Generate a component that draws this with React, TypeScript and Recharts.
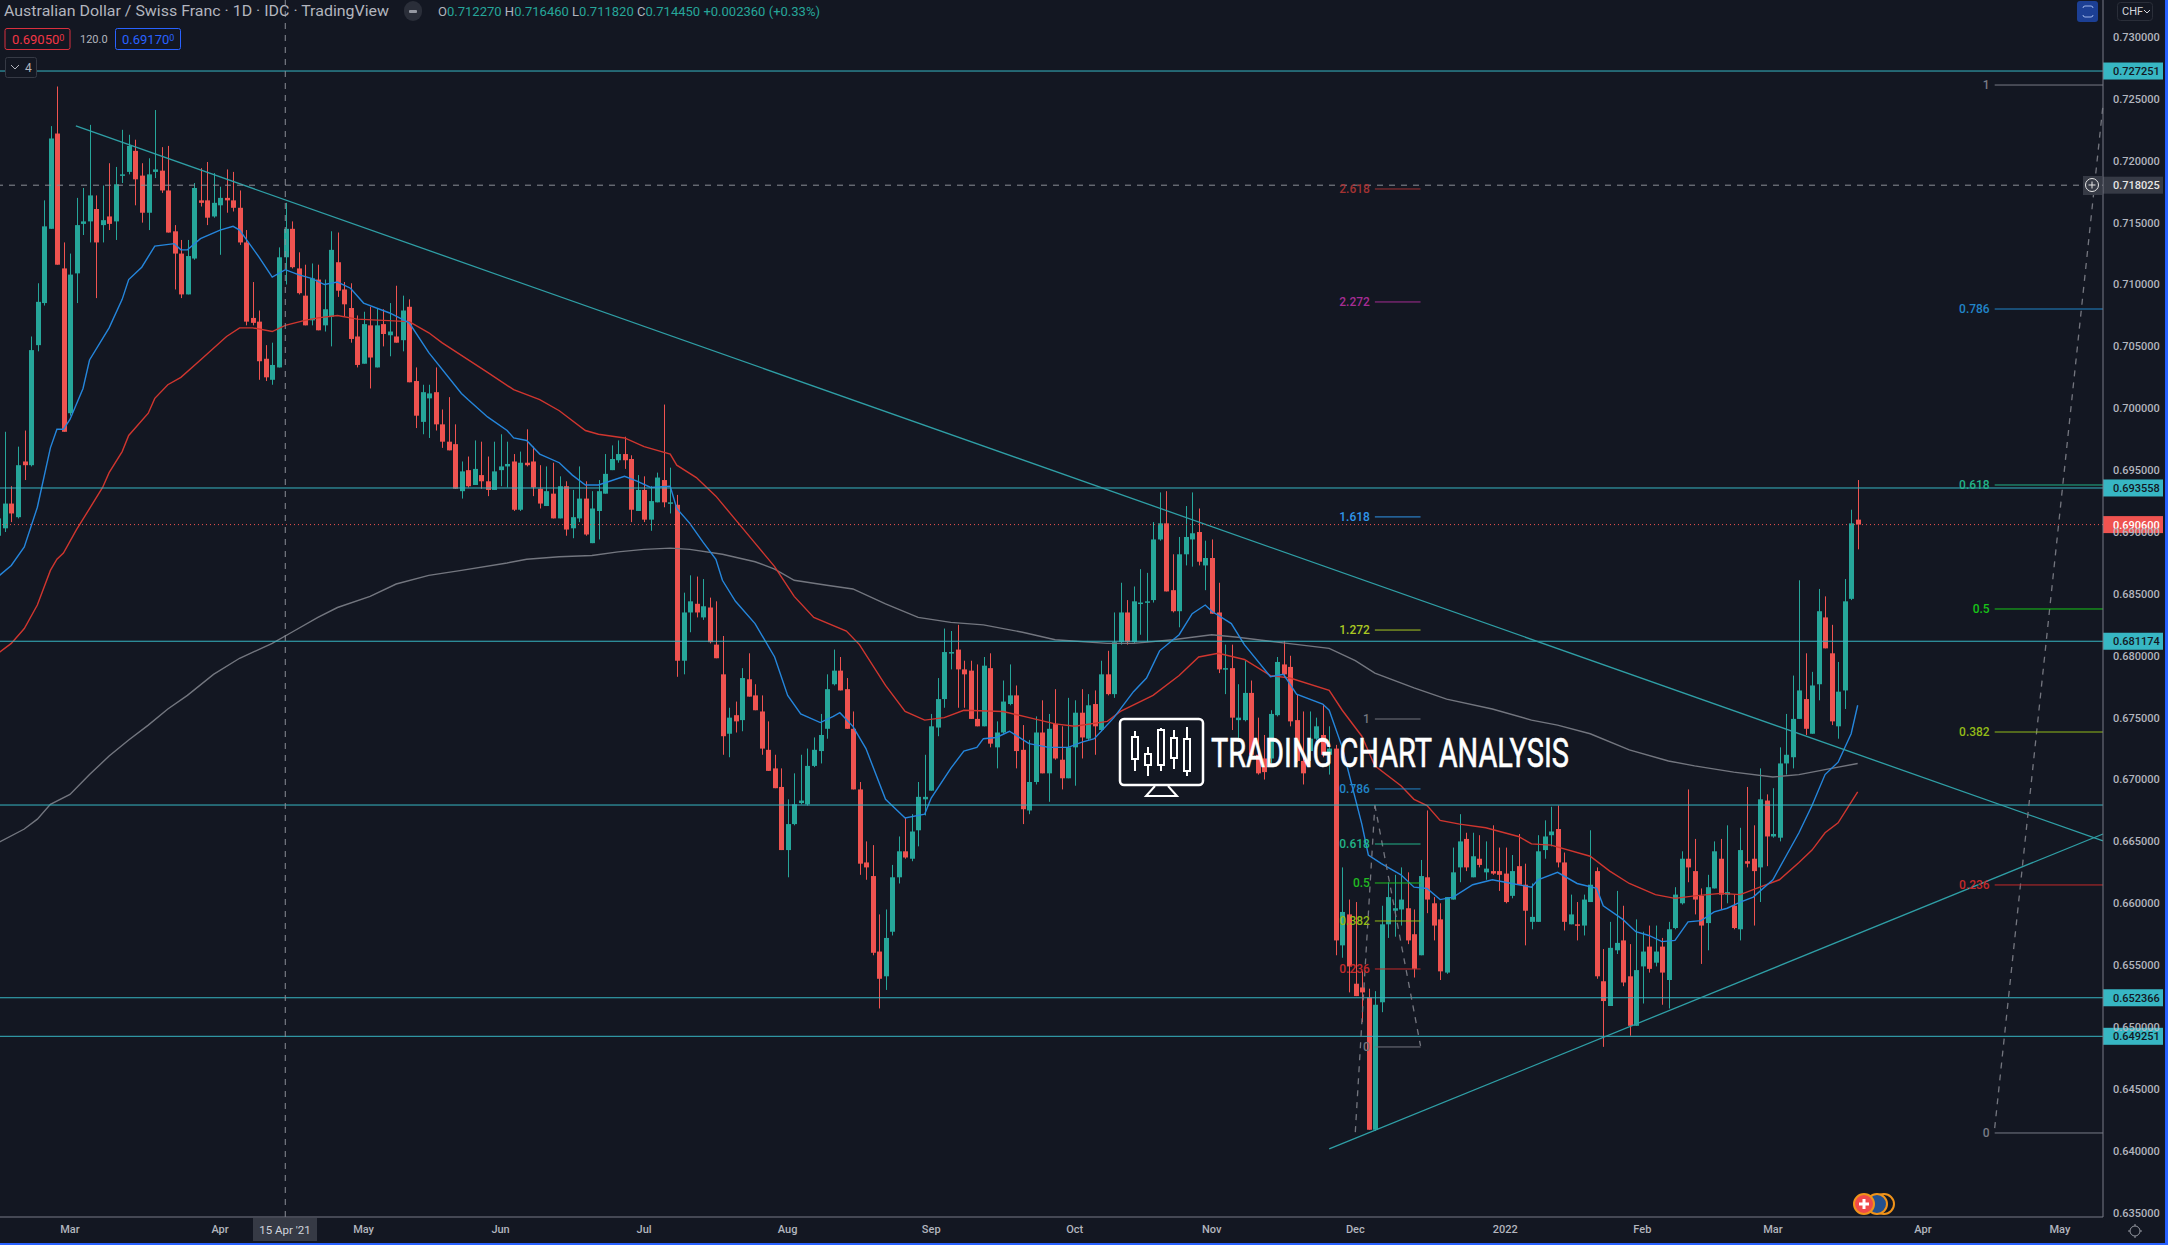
import React from 'react';
import { ComposedChart, Bar, Line, XAxis, YAxis, ReferenceLine } from 'recharts';

const opens = [
  6897,6903,6923,6912,6957,6954,7051,7085,7145,7222,
  7113,6996,7109,7149,7151,7161,7148,7155,7151,7188,
  7191,7208,7188,7158,7191,7192,7176,7143,7125,7092,
  7121,7168,7168,7155,7164,7170,7168,7162,7134,7073,
  7070,7040,7023,7033,7122,7145,7113,7091,7071,7104,
  7067,7074,7118,7096,7081,7058,7036,7067,7033,7068,
  7059,7058,7055,7082,7022,6989,7008,7013,6987,6973,
  6971,6933,6950,6938,6946,6941,6934,6950,6953,6957,
  6918,6956,6957,6935,6921,6931,6911,6937,6903,6911,
  6927,6891,6917,6931,6950,6958,6963,6959,6917,6934,
  6910,6924,6942,6923,6922,6796,6835,6842,6831,6839,
  6809,6785,6737,6752,6748,6781,6768,6755,6724,6709,
  6694,6643,6664,6681,6680,6711,6723,6741,6777,6788,
  6773,6741,6692,6633,6622,6561,6541,6577,6621,6642,
  6636,6659,6684,6691,6742,6765,6802,6805,6789,6788,
  6749,6743,6790,6726,6738,6761,6768,6724,6675,6698,
  6738,6705,6745,6716,6701,6726,6754,6733,6761,6740,
  6785,6769,6811,6835,6811,6842,6843,6845,6894,6907,
  6853,6836,6882,6894,6900,6873,6879,6835,6789,6790,
  6748,6748,6770,6720,6717,6717,6752,6793,6791,6748,
  6715,6723,6733,6736,6720,6725,6566,6591,6535,6532,
  6524,6417,6520,6583,6594,6595,6596,6575,6558,6621,
  6600,6587,6544,6603,6629,6652,6621,6636,6625,6626,
  6626,6624,6606,6630,6615,6585,6585,6643,6655,6660,
  6633,6583,6583,6582,6601,6626,6537,6517,6562,6570,
  6541,6501,6549,6565,6552,6565,6538,6580,6600,6636,
  6626,6606,6584,6612,6636,6607,6598,6579,6634,6636,
  6629,6683,6654,6653,6713,6718,6749,6765,6737,6777,
  6831,6802,6743,6772,6846,6910,
];
const highs = [
  6918,6981,6937,6969,6982,7058,7101,7168,7228,7260,
  7134,7125,7170,7178,7229,7172,7180,7198,7195,7225,
  7221,7217,7198,7202,7241,7211,7212,7148,7136,7136,
  7182,7194,7199,7190,7179,7193,7191,7176,7144,7102,
  7079,7051,7053,7130,7166,7151,7126,7116,7117,7116,
  7104,7143,7142,7102,7101,7075,7078,7082,7081,7080,
  7085,7099,7091,7088,7033,7019,7019,7033,6999,7009,
  6987,6957,6961,6974,6973,6961,6973,6979,6973,6963,
  6965,6983,6969,6954,6953,6956,6945,6941,6934,6953,
  6941,6933,6942,6963,6970,6974,6977,6962,6946,6945,
  6937,6948,7003,6952,6930,6851,6865,6864,6862,6847,
  6844,6816,6758,6763,6790,6802,6777,6768,6747,6720,
  6709,6684,6705,6720,6725,6734,6753,6785,6805,6799,
  6782,6755,6698,6650,6647,6591,6595,6631,6654,6669,
  6672,6698,6720,6753,6782,6822,6820,6825,6796,6796,
  6793,6799,6802,6747,6780,6793,6776,6744,6732,6751,
  6764,6753,6773,6743,6766,6764,6773,6769,6772,6796,
  6804,6835,6859,6845,6856,6870,6867,6908,6932,6933,
  6882,6896,6921,6932,6919,6893,6894,6859,6809,6809,
  6777,6796,6780,6750,6736,6756,6799,6812,6800,6769,
  6755,6755,6750,6761,6743,6728,6629,6603,6601,6545,
  6531,6529,6598,6617,6623,6629,6625,6595,6635,6675,
  6605,6600,6605,6645,6672,6657,6657,6655,6650,6663,
  6645,6645,6639,6656,6632,6616,6655,6667,6678,6679,
  6641,6607,6601,6607,6659,6629,6563,6585,6610,6598,
  6567,6587,6577,6582,6582,6572,6585,6613,6642,6692,
  6652,6612,6623,6650,6652,6663,6607,6661,6694,6663,
  6709,6688,6693,6726,6753,6784,6861,6802,6787,6854,
  6848,6825,6795,6862,6918,6942,
];
const lows = [
  6894,6900,6908,6911,6942,6953,7046,7083,7145,7116,
  6981,6994,7085,7140,7134,7089,7134,7144,7136,7182,
  7189,7164,7150,7144,7186,7174,7142,7096,7089,7092,
  7120,7163,7148,7154,7124,7158,7159,7132,7067,7067,
  7023,7022,7019,7033,7100,7113,7092,7067,7067,7063,
  7062,7050,7090,7074,7053,7033,7036,7016,7033,7050,
  7042,7053,7046,7021,6984,6979,6976,6982,6968,6966,
  6935,6927,6936,6938,6935,6929,6934,6937,6936,6917,
  6917,6953,6929,6919,6921,6911,6911,6897,6895,6908,
  6897,6891,6894,6931,6950,6956,6951,6908,6917,6908,
  6901,6924,6920,6915,6783,6785,6819,6831,6829,6810,
  6798,6720,6718,6738,6739,6767,6756,6720,6707,6693,
  6643,6621,6663,6680,6679,6710,6713,6733,6776,6772,
  6741,6692,6623,6619,6558,6515,6530,6574,6616,6636,
  6634,6646,6671,6691,6735,6758,6789,6758,6758,6749,
  6743,6743,6726,6709,6737,6760,6709,6664,6672,6696,
  6705,6682,6716,6692,6701,6695,6717,6732,6720,6739,
  6768,6766,6809,6809,6810,6817,6811,6843,6893,6852,
  6835,6823,6873,6872,6873,6853,6834,6786,6769,6740,
  6733,6747,6718,6704,6700,6713,6751,6782,6743,6714,
  6696,6715,6732,6718,6704,6558,6556,6528,6525,6504,
  6417,6416,6512,6572,6573,6582,6567,6540,6558,6592,
  6570,6538,6543,6603,6617,6626,6621,6629,6619,6623,
  6610,6600,6604,6615,6566,6579,6585,6636,6646,6629,
  6578,6583,6570,6574,6601,6539,6484,6517,6559,6533,
  6493,6501,6519,6544,6549,6518,6515,6579,6599,6617,
  6591,6551,6562,6612,6595,6600,6579,6570,6629,6582,
  6601,6630,6653,6650,6704,6709,6749,6736,6737,6764,
  6806,6744,6733,6757,6845,6886,
];
const closes = [
  6911,6923,6915,6954,6954,7047,7086,7147,7218,7116,
  6981,7108,7148,7151,7172,7134,7152,7149,7181,7189,
  7212,7185,7158,7189,7193,7176,7142,7125,7092,7123,
  7178,7166,7154,7166,7170,7168,7162,7134,7070,7069,
  7038,7025,7035,7122,7145,7114,7093,7067,7105,7063,
  7080,7128,7095,7084,7056,7035,7068,7041,7067,7060,
  7062,7053,7079,7021,6994,7013,7012,6987,6973,6966,
  6935,6949,6937,6951,6941,6934,6949,6953,6955,6918,
  6956,6954,6936,6923,6933,6911,6937,6902,6912,6927,
  6898,6919,6933,6947,6959,6963,6958,6918,6934,6910,
  6925,6944,6924,6924,6796,6835,6844,6835,6840,6811,
  6798,6735,6750,6747,6782,6767,6756,6725,6707,6693,
  6643,6664,6680,6683,6711,6724,6736,6773,6788,6772,
  6741,6692,6632,6629,6560,6539,6572,6621,6642,6637,
  6658,6686,6686,6743,6765,6803,6803,6789,6785,6749,
  6743,6792,6729,6738,6763,6768,6723,6676,6698,6738,
  6705,6741,6717,6701,6726,6754,6734,6760,6743,6785,
  6769,6811,6835,6811,6844,6843,6844,6894,6907,6852,
  6836,6882,6896,6899,6876,6879,6834,6789,6790,6750,
  6750,6770,6720,6705,6706,6753,6795,6785,6747,6715,
  6705,6733,6743,6720,6725,6570,6593,6549,6525,6528,
  6417,6518,6583,6605,6596,6603,6570,6547,6622,6603,
  6582,6545,6605,6625,6650,6629,6638,6631,6628,6624,
  6623,6601,6626,6615,6594,6589,6642,6654,6658,6633,
  6585,6591,6582,6603,6615,6541,6521,6564,6568,6536,
  6501,6546,6561,6547,6561,6544,6579,6607,6636,6629,
  6603,6582,6613,6642,6607,6609,6580,6643,6632,6626,
  6684,6654,6656,6713,6720,6749,6772,6741,6776,6836,
  6806,6747,6771,6844,6907,6906,
];

// moving averages, read at the candle index on the left of each pair
const ma20 = [
  [0,6864],[2,6873],[4,6888],[6,6920],[8,6968],[9,6983],[10,6983],[11,6991],[13,7016],[14,7039],[17,7065],[19,7088],[20,7104],[22,7114],[24,7131],[27,7133],
  [28,7128],[29,7128],[31,7137],[34,7144],[36,7147],[37,7144],[40,7122],[42,7106],[44,7112],[46,7108],[48,7105],[50,7100],[52,7102],[54,7097],[56,7085],[60,7077],
  [63,7069],[66,7045],[71,7012],[72,7007],[75,6993],[78,6982],[79,6976],[81,6974],[83,6963],[86,6956],[88,6946],[90,6938],[92,6938],[96,6945],[98,6941],[100,6936],
  [103,6937],[104,6919],[106,6907],[108,6892],[110,6878],[111,6861],[113,6844],[116,6826],[119,6799],[121,6768],[123,6753],[126,6746],[128,6751],[129,6754],[131,6743],
  [133,6725],[136,6684],[139,6669],[142,6672],[143,6685],[146,6709],[148,6723],[150,6726],[151,6733],[153,6734],[155,6739],[158,6729],[161,6726],[164,6726],[166,6730],
  [168,6733],[171,6750],[174,6771],[176,6782],[178,6804],[181,6817],[183,6834],[185,6841],[186,6836],[189,6826],[191,6809],[195,6783],[197,6785],[199,6769],[203,6761],
  [204,6756],[206,6726],[209,6664],[210,6639],[212,6632],[215,6623],[217,6613],[219,6612],[221,6603],[223,6605],[226,6615],[229,6619],[232,6616],[235,6613],[236,6619],
  [239,6625],[242,6616],[245,6612],[246,6598],[249,6587],[251,6577],[253,6574],[255,6569],[257,6570],[259,6585],[261,6586],[263,6593],[265,6596],[267,6601],[269,6605],
  [272,6619],[274,6638],[276,6657],[278,6679],[280,6704],[282,6714],[284,6737],[285,6760],
];
const ma50 = [
  [0,6802],[2,6810],[4,6822],[6,6841],[8,6869],[9,6878],[10,6883],[12,6902],[14,6919],[16,6936],[17,6948],[19,6965],[20,6978],[23,6996],[24,7008],[26,7019],[28,7025],
  [31,7039],[35,7058],[37,7065],[39,7065],[42,7062],[44,7067],[47,7071],[49,7073],[52,7075],[55,7072],[59,7071],[63,7070],[66,7061],[68,7053],[75,7029],[79,7015],
  [83,7007],[86,6998],[90,6982],[92,6979],[96,6976],[99,6969],[103,6963],[104,6954],[107,6944],[110,6929],[113,6910],[116,6891],[119,6872],[122,6848],[125,6831],
  [130,6820],[132,6809],[136,6776],[139,6755],[142,6748],[145,6750],[148,6756],[154,6755],[158,6750],[162,6745],[165,6743],[170,6747],[172,6755],[177,6768],[181,6784],
  [184,6799],[187,6802],[191,6797],[195,6784],[198,6782],[204,6772],[206,6756],[209,6735],[211,6711],[215,6695],[217,6684],[219,6679],[221,6667],[224,6664],[228,6661],
  [233,6654],[235,6648],[238,6647],[244,6638],[247,6626],[250,6616],[254,6607],[257,6604],[260,6606],[264,6608],[267,6607],[270,6613],[273,6619],[276,6633],[278,6643],
  [280,6657],[282,6665],[285,6690],
];
const ma200 = [
  [0,6649],[4,6660],[6,6668],[8,6680],[11,6688],[14,6704],[17,6719],[20,6732],[23,6744],[26,6757],[29,6768],[33,6785],[37,6798],[42,6810],[45,6819],[49,6831],[52,6839],
  [57,6848],[61,6858],[66,6865],[71,6869],[78,6875],[81,6878],[86,6880],[91,6881],[95,6884],[99,6886],[103,6887],[106,6886],[111,6882],[116,6876],[119,6870],[122,6861],
  [127,6857],[131,6854],[136,6842],[141,6831],[146,6827],[151,6825],[157,6819],[162,6813],[170,6810],[174,6810],[180,6813],[186,6817],[190,6815],[196,6811],[204,6806],
  [208,6796],[211,6786],[217,6774],[222,6765],[229,6757],[235,6748],[239,6744],[244,6737],[250,6724],[256,6715],[260,6711],[266,6706],[272,6702],[276,6704],[281,6709],[285,6713],
];

const yTicks = [0.635,0.64,0.645,0.65,0.655,0.66,0.665,0.67,0.675,0.68,0.685,0.69,0.695,0.7,0.705,0.71,0.715,0.72,0.725,0.73];
const xTickIndex = [11,34,56,77,99,121,143,165,186,208,231,252,272,295,316];
const xTickLabels = ['Mar','Apr','May','Jun','Jul','Aug','Sep','Oct','Nov','Dec','2022','Feb','Mar','Apr','May'];

const levelPrices = [0.727251,0.693558,0.681174,0.66794,0.652366,0.649251];
const levelTags = ['0.727251','0.693558','0.681174','','0.652366','0.649251'];

const fibMidLevels = ['2.618','2.272','1.618','1.272','1','0.786','0.618','0.5','0.382','0.236','0'];
const fibMidPrices = [0.71772,0.70859,0.69122,0.68208,0.67489,0.66924,0.66479,0.66164,0.65857,0.65469,0.64839];
const fibMidColors = ['#a33232','#a62d94','#3095ea','#aac822','#74767f','#2185c8','#22b388','#22bb22','#92bb18','#c42a2a','#74767f'];

const fibRightLevels = ['1','0.786','0.618','0.5','0.382','0.236','0'];
const fibRightPrices = [0.72612,0.70802,0.6938,0.68378,0.67384,0.66148,0.64144];
const fibRightColors = ['#787b86','#2185c8','#22b388','#18c418','#92bb18','#c42a2a','#787b86'];

const LAST_PRICE = 0.6906;
const CROSS_PRICE = 0.718025;
const CROSS_INDEX = 44;
const X_MIN = 0.276;
const X_MAX = 322.6;
const Y_MIN = 0.63465;
const Y_MAX = 0.73299;

const lookup = (pairs: number[][]) => new Map(pairs.map(([k, v]) => [k, v / 10000]));
const ma20Map = lookup(ma20);
const ma50Map = lookup(ma50);
const ma200Map = lookup(ma200);

const rows = opens.map((o, i) => ({
  i,
  open: o / 10000,
  high: highs[i] / 10000,
  low: lows[i] / 10000,
  close: closes[i] / 10000,
  range: [lows[i] / 10000, highs[i] / 10000],
  ma20: ma20Map.get(i) ?? null,
  ma50: ma50Map.get(i) ?? null,
  ma200: ma200Map.get(i) ?? null,
}));

const BG = '#131722';
const UP = '#26a69a';
const DOWN = '#ef5350';
const TEAL = '#37b6c3';
const TREND = '#2f9fa6';
const AXIS = '#787b86';
const FONT = 'Roboto, sans-serif';

const Candle = (props: any) => {
  const { x, y, width, height, payload } = props;
  const { open, high, low, close } = payload;
  const perUnit = height / (high - low || 1);
  const openY = y + (high - open) * perUnit;
  const closeY = y + (high - close) * perUnit;
  const color = close >= open ? UP : DOWN;
  const cx = Math.round(x + width / 2);
  return (
    <g>
      <line x1={cx + 0.5} x2={cx + 0.5} y1={y} y2={y + height} stroke={color} strokeWidth={1} />
      <rect
        x={cx - 2}
        y={Math.min(openY, closeY)}
        width={5}
        height={Math.max(Math.abs(closeY - openY), 1.5)}
        fill={color}
      />
    </g>
  );
};

const PriceTag = (props: any) => {
  const { viewBox, text, fill, color } = props;
  const right = viewBox.x + viewBox.width;
  return (
    <g>
      <rect x={right} y={viewBox.y - 8.5} width={60} height={17} fill={fill} />
      <text x={right + 10} y={viewBox.y + 4} fontSize={11} fontWeight={500} fontFamily={FONT} fill={color}>{text}</text>
    </g>
  );
};

const Txt = (props: any) => {
  const { children, ...rest } = props;
  return <text fontFamily={FONT} {...rest}>{children}</text>;
};

// everything on the page that is TradingView chrome, not chart data
const Overlay = () => (
  <svg width={2168} height={1245} style={{ position: 'absolute', left: 0, top: 0, pointerEvents: 'none' }}>
    <Txt x={4} y={16} fontSize={14} fill="#b2b5be" textLength={385} lengthAdjust="spacingAndGlyphs">
      Australian Dollar / Swiss Franc · 1D · IDC · TradingView
    </Txt>
    <rect x={404} y={1} width={18} height={20} rx={9} fill="#2a2e39" />
    <rect x={409} y={10} width={8} height={3} rx={1} fill="#9598a1" />
    <Txt x={438} y={16} fontSize={12} fill={UP} textLength={382} lengthAdjust="spacingAndGlyphs">
      <tspan fill="#b2b5be">O</tspan>0.712270 <tspan fill="#b2b5be">H</tspan>0.716460 <tspan fill="#b2b5be">L</tspan>0.711820 <tspan fill="#b2b5be">C</tspan>0.714450 +0.002360 (+0.33%)
    </Txt>

    <rect x={5} y={28.5} width={65} height={21} rx={2} fill="none" stroke="#d9303e" />
    <Txt x={12} y={44} fontSize={13} fill="#f23645">0.69050<tspan fontSize={9} dy={-3}>0</tspan></Txt>
    <Txt x={80} y={43} fontSize={11} fill="#b2b5be">120.0</Txt>
    <rect x={115.5} y={28.5} width={65} height={21} rx={2} fill="none" stroke="#2962ff" />
    <Txt x={122} y={44} fontSize={13} fill="#2962ff">0.69170<tspan fontSize={9} dy={-3}>0</tspan></Txt>
    <rect x={5.5} y={57.5} width={31} height={20} rx={2} fill={BG} stroke="#363a45" />
    <path d="M11 65 L15 69 L19 65" fill="none" stroke="#b2b5be" />
    <Txt x={25} y={72} fontSize={12} fill="#b2b5be">4</Txt>

    <rect x={2077} y={1} width={21} height={21} rx={3} fill="#1c3f94" />
    <path d="M2083 8 Q2083 6 2085 6 H2091 Q2093 6 2093 8 M2083 15 Q2083 17 2085 17 H2091 Q2093 17 2093 15" fill="none" stroke="#9db4e8" />
    <rect x={2117.5} y={2.5} width={35} height={18} rx={3} fill={BG} stroke="#2a2e39" />
    <Txt x={2122} y={15} fontSize={11} fill="#d1d4dc">CHF</Txt>
    <path d="M2144 10 L2147 13 L2150 10" fill="none" stroke="#d1d4dc" />

    <rect x={2083} y={176} width={19} height={19} fill="#363a45" />
    <circle cx={2092} cy={185} r={6.5} fill="none" stroke="#e6e6e6" />
    <path d="M2092 181.5 V188.5 M2088.5 185 H2095.5" stroke="#e6e6e6" />

    <rect x={253} y={1218} width={64} height={23} fill="#363a45" />
    <Txt x={285} y={1234} fontSize={11.5} fill="#d1d4dc" textAnchor="middle">15 Apr '21</Txt>

    <g stroke="#9598a1" fill="none">
      <circle cx={2135} cy={1231} r={5} />
      <path d="M2135 1224 V1226 M2135 1236 V1238 M2128 1231 H2130 M2140 1231 H2142" />
    </g>

    <circle cx={1884} cy={1204} r={10} fill="#131722" stroke="#f0931a" strokeWidth={2} />
    <circle cx={1877} cy={1204} r={10} fill="#23508f" stroke="#f0931a" strokeWidth={2} />
    <circle cx={1864} cy={1204} r={10} fill="#ef4a4a" stroke="#f0931a" strokeWidth={2} />
    <path d="M1864 1199 V1209 M1859 1204 H1869" stroke="#fff" strokeWidth={3} />

    <g fill="none" stroke="#ffffff" strokeWidth={2.5}>
      <rect x={1120} y={719} width={83} height={66} rx={4} fill={BG} fillOpacity={0.55} />
      <path d="M1155 786 L1146 796 H1177 L1168 786" strokeWidth={2} />
      <g strokeWidth={2}>
        <path d="M1135 731 V771 M1148 747 V776 M1161 728 V771 M1174 730 V769 M1187 727 V776" />
        <rect x={1132} y={737} width={6} height={22} fill={BG} />
        <rect x={1145} y={754} width={6} height={11} fill={BG} />
        <rect x={1158} y={730} width={6} height={35} fill={BG} />
        <rect x={1171} y={738} width={6} height={20} fill={BG} />
        <rect x={1184} y={739} width={6} height={32} fill={BG} />
      </g>
    </g>
    <text x={1211} y={767} fontFamily="'Liberation Sans Narrow', Roboto, sans-serif" fontSize={40} fill="#ffffff" stroke="#ffffff" strokeWidth={0.6} textLength={358} lengthAdjust="spacingAndGlyphs">
      TRADING CHART ANALYSIS
    </text>

    <rect x={2165} y={0} width={3} height={1245} fill="#2962ff" />
    <rect x={0} y={1243} width={2168} height={2} fill="#2962ff" />
  </svg>
);

export default function App() {
  return (
    <div style={{ position: 'absolute', left: 0, top: 0, width: 2168, height: 1245, background: BG, overflow: 'hidden' }}>
      <ComposedChart width={2168} height={1245} data={rows} margin={{ top: 0, right: 0, bottom: 0, left: 0 }}>
        <XAxis
          type="number"
          dataKey="i"
          domain={[X_MIN, X_MAX]}
          allowDataOverflow
          ticks={xTickIndex}
          interval={0}
          height={28}
          tickSize={0}
          tickMargin={8}
          tickLine={false}
          stroke={AXIS}
          tick={{ fill: '#b2b5be', fontSize: 11, fontWeight: 500, fontFamily: FONT }}
          tickFormatter={(v: number) => xTickLabels[xTickIndex.indexOf(v)]}
        />
        <YAxis
          orientation="right"
          domain={[Y_MIN, Y_MAX]}
          allowDataOverflow
          ticks={yTicks}
          interval={0}
          width={65}
          tickSize={0}
          tickMargin={10}
          tickLine={false}
          stroke={AXIS}
          tick={{ fill: '#b2b5be', fontSize: 11, fontWeight: 500, fontFamily: FONT, textAnchor: 'start' }}
          tickFormatter={(v: number) => v.toFixed(6)}
        />

        <Line dataKey="ma200" stroke="#73767f" strokeWidth={1.4} dot={false} connectNulls isAnimationActive={false} />
        <Line dataKey="ma50" stroke="#d0362f" strokeWidth={1.4} dot={false} connectNulls isAnimationActive={false} />
        <Line dataKey="ma20" stroke="#2586dc" strokeWidth={1.4} dot={false} connectNulls isAnimationActive={false} />

        <Bar dataKey="range" barSize={5} shape={<Candle />} isAnimationActive={false} />

        {levelPrices.map((p, k) => (
          <ReferenceLine
            key={`level-${k}`}
            y={p}
            stroke={TEAL}
            strokeWidth={1}
            label={levelTags[k] ? <PriceTag text={levelTags[k]} fill={TEAL} color="#131722" /> : undefined}
          />
        ))}

        <ReferenceLine
          segment={[{ x: 11.9, y: 0.72281 }, { x: X_MAX, y: 0.66504 }]}
          stroke={TREND}
          strokeWidth={1.3}
          ifOverflow="visible"
        />
        <ReferenceLine
          segment={[{ x: 204, y: 0.64015 }, { x: X_MAX, y: 0.6656 }]}
          stroke={TREND}
          strokeWidth={1.3}
          ifOverflow="visible"
        />

        <ReferenceLine segment={[{ x: 208, y: 0.64151 }, { x: 211, y: 0.66794 }]} stroke="#74767f" strokeWidth={1.3} strokeDasharray="6 6" ifOverflow="visible" />
        <ReferenceLine segment={[{ x: 211, y: 0.66794 }, { x: 218, y: 0.64847 }]} stroke="#74767f" strokeWidth={1.3} strokeDasharray="6 6" ifOverflow="visible" />
        <ReferenceLine segment={[{ x: 306, y: 0.64183 }, { x: X_MAX, y: 0.7245 }]} stroke="#74767f" strokeWidth={1.3} strokeDasharray="6 6" ifOverflow="visible" />

        {fibMidLevels.map((name, k) => (
          <ReferenceLine
            key={`fib-mid-${k}`}
            segment={[{ x: 211, y: fibMidPrices[k] }, { x: 218, y: fibMidPrices[k] }]}
            stroke={fibMidColors[k]}
            ifOverflow="visible"
            label={{ value: name, position: 'left', fill: fibMidColors[k], fontSize: 12, fontWeight: 500, fontFamily: FONT, offset: 5 }}
          />
        ))}
        {fibRightLevels.map((name, k) => (
          <ReferenceLine
            key={`fib-right-${k}`}
            segment={[{ x: 306, y: fibRightPrices[k] }, { x: X_MAX, y: fibRightPrices[k] }]}
            stroke={fibRightColors[k]}
            ifOverflow="visible"
            label={{ value: name, position: 'left', fill: fibRightColors[k], fontSize: 12, fontWeight: 500, fontFamily: FONT, offset: 5 }}
          />
        ))}

        <ReferenceLine y={CROSS_PRICE} stroke="#8a8d96" strokeDasharray="6 6" label={<PriceTag text="0.718025" fill="#363a45" color="#e6e6e6" />} />
        <ReferenceLine x={CROSS_INDEX} stroke="#8a8d96" strokeDasharray="6 6" />
        <ReferenceLine y={LAST_PRICE} stroke={DOWN} strokeDasharray="1 3" label={<PriceTag text="0.690600" fill={DOWN} color="#ffffff" />} />
      </ComposedChart>
      <Overlay />
    </div>
  );
}
